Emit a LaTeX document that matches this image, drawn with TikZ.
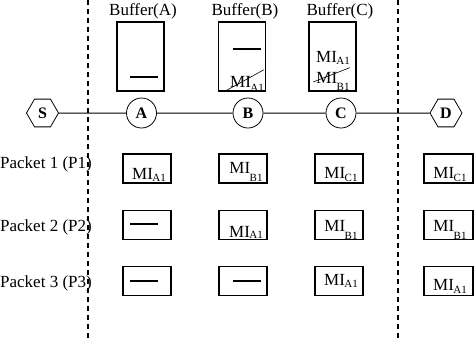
\documentclass[tikz,border=0pt]{standalone}
\usepackage{fontspec}
\setmainfont{Liberation Serif}
\usepackage{tikz}
\usetikzlibrary{shapes.geometric,positioning,calc}
\newcommand{\mi}[2][3pt]{MI\kern-0.5pt\raisebox{-#1}{\fontsize{11}{11}\selectfont #2}}
\newcommand{\blank}{\rule{28pt}{1.1pt}}

\begin{document}
\begin{tikzpicture}[x=1pt, y=-1pt, every node/.style={font=\fontsize{17}{19}\selectfont},
  buf/.style={draw, line width=1.2pt, minimum width=47pt, minimum height=69pt, inner sep=0},
  pkt/.style={draw, line width=1.2pt, minimum width=48pt, minimum height=29pt, inner sep=0},
  router/.style={circle, draw, line width=0.8pt, minimum size=30pt, inner sep=0, font=\fontsize{16}{18}\selectfont\bfseries},
  term/.style={regular polygon, regular polygon sides=6, draw, line width=0.8pt, minimum size=32pt, inner sep=0, font=\fontsize{16}{18}\selectfont\bfseries},
  txt/.style={anchor=base, inner sep=0},
  divider/.style={dash pattern=on 5pt off 4pt, line width=1.2pt}]
  \useasboundingbox (0,0) rectangle (474,338);
  % Dashed borders
  \coordinate (t1) at (88,0);
  \coordinate (b1) at (88,338);
  \coordinate (t2) at (398,0);
  \coordinate (b2) at (398,338);
  \draw[divider] (t1) -- (b1);
  \draw[divider] (t2) -- (b2);
  % Path
  \node[term] (S) at (42.5,113) {S};
  \node[router] (A) at (141.5,113) {A};
  \node[router] (B) at (248,113) {B};
  \node[router] (C) at (341,113) {C};
  \node[term] (D) at (446,113) {D};
  \draw[line width=1pt] (S) -- (A) -- (B) -- (C) -- (D);
  % Buffers
  \node[txt] (labA) at (143,15) {Buffer(A)};
  \node[txt] (labB) at (245,15) {Buffer(B)};
  \node[txt] (labC) at (340,15) {Buffer(C)};
  \node[buf] (bufA) at (140.5,56.5) {};
  \node[buf] (bufB) at (242,56.5) {};
  \node[buf] (bufC) at (332.5,56.5) {};
  \node[inner sep=0] (eA) at (144,77) {\blank};
  \node[inner sep=0] (eB) at (246.5,49) {\blank};
  \node[txt] (mB) at (247,87) {\mi[4pt]{A1}};
  \node[txt] (mC1) at (333,62) {\mi[2pt]{A1}};
  \node[txt] (mC2) at (333,83) {\mi[7pt]{B1}};
  \draw[line width=0.6pt] ($(mB.south west)+(-5,0)$) -- ($(mB.north east)+(0,-6)$);
  \draw[line width=0.6pt] ($(mC2.west)+(-3,1)$) -- ($(mC2.north east)+(0,-4)$);
  % Packets
  \node[anchor=base west, inner sep=0] (P1) at (0,168) {Packet 1 (P1)};
  \node[anchor=base west, inner sep=0] (P2) at (0,231.5) {Packet 2 (P2)};
  \node[anchor=base west, inner sep=0] (P3) at (0,287) {Packet 3 (P3)};
  \foreach \r/\y in {1/168.5, 2/225, 3/281} {
    \node[pkt] (pA\r) at (147,\y) {};
    \node[pkt] (pB\r) at (243,\y) {};
    \node[pkt] (pC\r) at (339,\y) {};
    \node[pkt, minimum width=49pt] (pD\r) at (448.5,\y) {};
  }
  \node[txt] (tA1) at (149,179) {\mi[2.5pt]{A1}};
  \node[txt] (tB1) at (246,173) {\mi[8pt]{B1}};
  \node[txt] (tC1) at (341,178) {\mi[3pt]{C1}};
  \node[txt] (tD1) at (450,178) {\mi[3pt]{C1}};
  \node[inner sep=0] (tA2) at (144,224) {\blank};
  \node[txt] (tB2) at (246,237) {\mi[1.5pt]{A1}};
  \node[txt] (tC2) at (341,231.5) {\mi[7.5pt]{B1}};
  \node[txt] (tD2) at (450,231.5) {\mi[7.5pt]{B1}};
  \node[inner sep=0] (tA3) at (144,281) {\blank};
  \node[inner sep=0] (tB3) at (247,281) {\blank};
  \node[txt] (tC3) at (341,285) {\mi[2pt]{A1}};
  \node[txt] (tD3) at (450,290.5) {\mi[3pt]{A1}};
\end{tikzpicture}
\end{document}
